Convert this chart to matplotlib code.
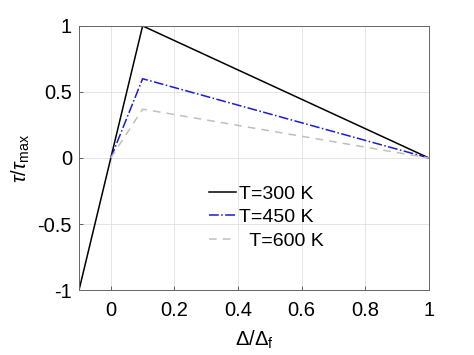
import matplotlib
matplotlib.use("Agg")
import matplotlib.pyplot as plt

plt.rcParams['font.family'] = ['Liberation Sans', 'DejaVu Sans']
plt.rcParams['axes.unicode_minus'] = False
plt.rcParams['mathtext.fontset'] = 'custom'
plt.rcParams['mathtext.rm'] = 'Liberation Sans'
plt.rcParams['mathtext.it'] = 'Liberation Sans:italic'

# dados (curvas tração-separação normalizadas)
x_300 = [-0.1, 0.1, 1.0]
y_300 = [-1.0, 1.0, 0.0]
x_450 = [0.0, 0.1, 1.0]
y_450 = [0.0, 0.6, 0.0]
x_600 = [0.0, 0.1, 1.0]
y_600 = [0.0, 0.37, 0.0]

xticks = [0, 0.2, 0.4, 0.6, 0.8, 1]
xtick_labels = ["0", "0.2", "0.4", "0.6", "0.8", "1"]
yticks = [-1, -0.5, 0, 0.5, 1]
ytick_labels = ["-1", "-0.5", "0", "0.5", "1"]

fig = plt.figure(figsize=(4.74, 3.55), dpi=100)
ax = fig.add_axes([0.1667, 0.183, 0.738, 0.744])

ax.plot(x_300, y_300, color="black", lw=1.1, label="T=300 K")
ax.plot(x_450, y_450, color=(0.1, 0.1, 0.85), lw=1.1, ls="-.", label="T=450 K")
ax.plot(x_600, y_600, color=(0.75, 0.75, 0.75), lw=1.1, ls=(0, (5, 4)), label="  T=600 K")

ax.set_xlim(-0.1, 1)
ax.set_ylim(-1, 1)
ax.set_xticks(xticks)
ax.set_xticklabels(xtick_labels)
ax.set_yticks(yticks)
ax.set_yticklabels(ytick_labels)
ax.tick_params(direction="in", labelsize=14.5, length=3, color="0.3", width=0.6)
ax.tick_params(axis="x", pad=8)
ax.tick_params(axis="y", pad=5)
ax.grid(True, color="0.88", lw=0.6)
for s in ax.spines.values():
    s.set_color("0.4")
    s.set_linewidth(0.7)

ax.set_xlabel(r"$\Delta/\Delta_{\rm f}$", fontsize=14.5, labelpad=6)
ax.set_ylabel(r"$\tau/\tau_{\rm max}$", fontsize=14.5, labelpad=4)

leg = ax.legend(loc="center", bbox_to_anchor=(0.535, 0.275), frameon=False,
                fontsize=14, handlelength=1.4, handletextpad=0.15,
                labelspacing=0.3)

fig.savefig("out.png", dpi=100)
